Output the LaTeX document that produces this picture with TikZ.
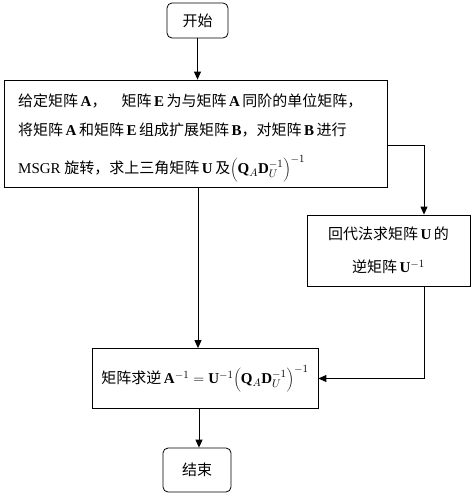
\documentclass[tikz,border=0pt]{standalone}
\usepackage{fontspec}
\setmainfont{Liberation Serif}
\newfontfamily\cjk{Noto Sans CJK SC}
\usetikzlibrary{arrows.meta}
\newcommand{\zh}[1]{{\cjk #1}}
\newcommand{\bm}[1]{\mathbf{#1}}
\begin{document}
\begin{tikzpicture}[x=1pt,y=-1pt,
  font=\fontsize{15pt}{29pt}\selectfont,
  box/.style={draw, line width=0.8pt, inner sep=0pt},
  term/.style={box, rounded corners=5pt},
  arr/.style={-{Triangle[length=8pt,width=7pt]}, line width=0.9pt}]
\useasboundingbox (0,0) rectangle (474,496);
\node[term, minimum width=61pt, minimum height=35pt] (start) at (197.5,20.5) {\zh{开始}};
\node[box, minimum width=383pt, minimum height=107pt] (main) at (195.5,133.5) {};
\node[anchor=west, align=left, inner sep=0pt] (maintext) at (18,138) {%
\zh{给定矩阵}\,$\bm{A}$\zh{，}\quad\zh{矩阵}\,$\bm{E}$\,\zh{为与矩阵}\,$\bm{A}$\,\zh{同阶的单位矩阵，}\\
\zh{将矩阵}\,$\bm{A}$\,\zh{和矩阵}\,$\bm{E}$\,\zh{组成扩展矩阵}\,$\bm{B}$\zh{，对矩阵}\,$\bm{B}$\,\zh{进行}\\[9pt]
MSGR \zh{旋转，求上三角矩阵}\,$\bm{U}$\,\zh{及}$\biggl(\bm{Q}_{A}\bm{D}_{U}^{-1}\biggr)^{-1}$};
\node[box, minimum width=163pt, minimum height=71pt, align=center] (side) at (388.5,250.5)
  {\zh{回代法求矩阵}\,$\bm{U}$\,\zh{的}\\[4pt]\zh{逆矩阵}\,$\bm{U}^{-1}$};
\node[box, minimum width=226pt, minimum height=60pt] (inv) at (205,378.5)
  {\zh{矩阵求逆}\,$\bm{A}^{-1}=\bm{U}^{-1}\biggl(\bm{Q}_{A}\bm{D}_{U}^{-1}\biggr)^{-1}$};
\node[term, minimum width=68pt, minimum height=44pt] (end) at (197,470) {\zh{结束}};
\draw[arr] (start.south) -- (start.south |- main.north);
\draw[arr] ([xshift=2.5pt]main.south) -- ([xshift=2.5pt]main.south |- inv.north);
\draw[arr] ([yshift=-11.5pt]main.east) -| ([xshift=35.5pt]side.north);
\draw[arr] ([xshift=35.5pt]side.south) |- (inv.east);
\draw[arr] ([xshift=2pt]end.north |- inv.south) -- ([xshift=2pt]end.north);
\end{tikzpicture}
\end{document}
